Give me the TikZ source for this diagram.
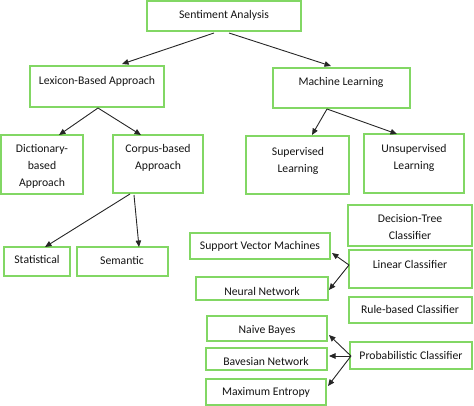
\documentclass[tikz,border=0pt]{standalone}
\usepackage{fontspec}
\setmainfont{Carlito}
\usetikzlibrary{arrows.meta}
\definecolor{boxgreen}{RGB}{130,215,100}
\definecolor{txt}{RGB}{20,20,20}
\tikzset{
  bx/.style={draw=boxgreen, line width=1.4pt, fill=white, inner sep=0pt},
  lbl/.style={text=txt, font=\fontsize{11.7}{17}\selectfont, align=center, inner sep=0pt},
  arr/.style={-{Triangle[length=6.5pt,width=5.5pt]}, line width=0.9pt, draw=black!85}
}
\newcommand{\bxat}[5]{% name, x1, y1, x2, y2 (px, y down)
  \path[bx] (#2pt,-#3pt) rectangle (#4pt,-#5pt);
  \coordinate (#1) at ({(#2+#4)/2*1pt},{-(#3+#5)/2*1pt});
}
\begin{document}
\begin{tikzpicture}[x=1pt,y=1pt]
\useasboundingbox (0,0) rectangle (474,-406);
% boxes
\bxat{sa}{147}{1}{301}{31}
\bxat{lex}{30}{66}{164}{107}
\bxat{ml}{273}{68}{410}{108}
\bxat{dict}{1}{135}{83}{194}
\bxat{corp}{113}{135}{203}{193}
\bxat{stat}{4}{247}{70}{276}
\bxat{sem}{77}{247}{168}{276}
\bxat{sup}{246}{136}{349}{194}
\bxat{uns}{364}{134}{464}{193}
\bxat{dt}{348}{205}{472}{246}
\bxat{svm}{190}{233}{330}{259}
\bxat{lin}{349}{250}{472}{288}
\bxat{nn}{196}{277}{328}{300}
\bxat{rule}{349}{297}{472}{323}
\bxat{nb}{207}{316}{327}{341}
\bxat{bn}{206}{348}{327}{370}
\bxat{prob}{350}{342}{472}{369}
\bxat{me}{206}{379}{326}{405}
% labels
\node[lbl] (tsa) at (224,-15) {Sentiment Analysis};
\node[lbl] (tlex) at (97,-81) {Lexicon-Based Approach};
\node[lbl] (tml) at (341,-82) {Machine Learning};
\node[lbl] (tdict) at (42,-166) {Dictionary-\\based\\Approach};
\node[lbl] (tcorp) at (158,-158) {Corpus-based\\Approach};
\node[lbl] (tstat) at (37,-259) {Statistical};
\node[lbl] (tsem) at (122,-260) {Semantic};
\node[lbl] (tsup) at (298,-161) {Supervised\\Learning};
\node[lbl] (tuns) at (414,-158) {Unsupervised\\Learning};
\node[lbl] (tdt) at (410,-227) {Decision-Tree\\Classifier};
\node[lbl] (tsvm) at (260,-246) {Support Vector Machines};
\node[lbl] (tlin) at (410,-264) {Linear Classifier};
\node[lbl] (tnn) at (262,-291) {Neural Network};
\node[lbl] (trule) at (410,-309) {Rule-based Classifier};
\node[lbl] (tnb) at (267,-330) {Naive Bayes};
\node[lbl] (tbn) at (266,-361) {Bavesian Network};
\node[lbl] (tprob) at (411,-355) {Probabilistic Classifier};
\node[lbl] (tme) at (266,-392) {Maximum Entropy};
% connector anchor points
\coordinate (sa1) at (214,-33);
\coordinate (sa2) at (229,-33);
\coordinate (lexT) at (122,-64);
\coordinate (mlT) at (331,-66);
\coordinate (lexB) at (98,-108);
\coordinate (dictT) at (59,-135);
\coordinate (corpT) at (141,-135);
\coordinate (corpB1) at (130,-194);
\coordinate (corpB2) at (134,-195);
\coordinate (statT) at (45,-247);
\coordinate (semT) at (139,-247);
\coordinate (mlB) at (327,-109);
\coordinate (supT) at (312,-135);
\coordinate (unsT) at (397,-134);
\coordinate (linL) at (349,-265);
\coordinate (svmR) at (332,-253);
\coordinate (nnR) at (329,-290);
\coordinate (probL) at (351,-356);
\coordinate (nbR) at (329,-335);
\coordinate (bnR) at (329,-356);
\coordinate (meR) at (328,-386);
% connectors
\draw[arr] (sa1) -- (lexT);
\draw[arr] (sa2) -- (mlT);
\draw[arr] (lexB) -- (dictT);
\draw[arr] (lexB) -- (corpT);
\draw[arr] (corpB1) -- (statT);
\draw[arr] (corpB2) -- (semT);
\draw[arr] (mlB) -- (supT);
\draw[arr] (mlB) -- (unsT);
\draw[arr] (linL) -- (svmR);
\draw[arr] (linL) -- (nnR);
\draw[arr] (probL) -- (nbR);
\draw[arr] (probL) -- (bnR);
\draw[arr] (probL) -- (meR);
\end{tikzpicture}
\end{document}
